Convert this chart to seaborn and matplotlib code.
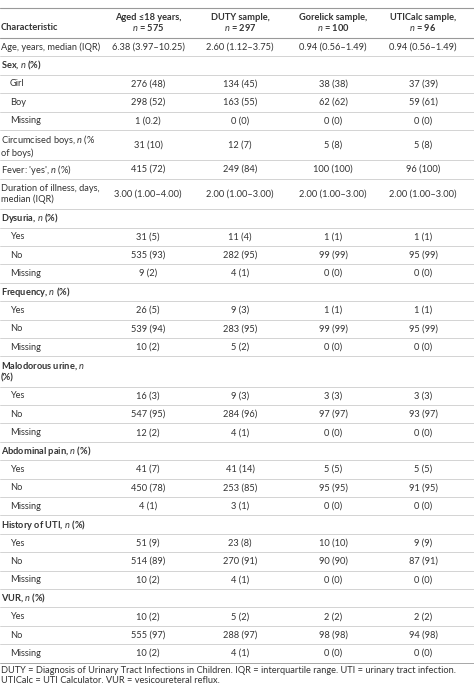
import matplotlib
matplotlib.use("Agg")
import matplotlib.pyplot as plt
import seaborn as sns

sns.set_theme(style="white")
plt.rcParams['font.family'] = ['Lato', 'DejaVu Sans']
plt.rcParams['mathtext.fontset'] = 'custom'
plt.rcParams['mathtext.it'] = 'Lato:italic'
plt.rcParams['mathtext.rm'] = 'Lato'
plt.rcParams['mathtext.bf'] = 'Lato:bold'

headers = ["Characteristic", "Aged ≤18 years,\n$n$ = 575", "DUTY sample,\n$n$ = 297",
           "Gorelick sample,\n$n$ = 100", "UTICalc sample,\n$n$ = 96"]
# kind: 'r' row, 's' section header, 'i' indented sub-row
kinds = ['r','s','i','i','i','r','r','r','s','i','i','i','s','i','i','i','s','i','i','i',
         's','i','i','i','s','i','i','i','s','i','i','i']
labels = ["Age, years, median (IQR)", "Sex, $\\mathbf{\\mathit{n}}$ (%)", "Girl", "Boy", "Missing",
          "Circumcised boys, $n$ (%\nof boys)", "Fever: 'yes', $n$ (%)", "Duration of illness, days,\nmedian (IQR)",
          "Dysuria, $\\mathbf{\\mathit{n}}$ (%)", "Yes", "No", "Missing",
          "Frequency, $\\mathbf{\\mathit{n}}$ (%)", "Yes", "No", "Missing",
          "Malodorous urine, $\\mathbf{\\mathit{n}}$\n(%)", "Yes", "No", "Missing",
          "Abdominal pain, $\\mathbf{\\mathit{n}}$ (%)", "Yes", "No", "Missing",
          "History of UTI, $\\mathbf{\\mathit{n}}$ (%)", "Yes", "No", "Missing",
          "VUR, $\\mathbf{\\mathit{n}}$ (%)", "Yes", "No", "Missing"]
aged = ["6.38 (3.97–10.25)", "", "276 (48)", "298 (52)", "1 (0.2)", "31 (10)", "415 (72)", "3.00 (1.00–4.00)",
        "", "31 (5)", "535 (93)", "9 (2)", "", "26 (5)", "539 (94)", "10 (2)",
        "", "16 (3)", "547 (95)", "12 (2)", "", "41 (7)", "450 (78)", "4 (1)",
        "", "51 (9)", "514 (89)", "10 (2)", "", "10 (2)", "555 (97)", "10 (2)"]
duty = ["2.60 (1.12–3.75)", "", "134 (45)", "163 (55)", "0 (0)", "12 (7)", "249 (84)", "2.00 (1.00–3.00)",
        "", "11 (4)", "282 (95)", "4 (1)", "", "9 (3)", "283 (95)", "5 (2)",
        "", "9 (3)", "284 (96)", "4 (1)", "", "41 (14)", "253 (85)", "3 (1)",
        "", "23 (8)", "270 (91)", "4 (1)", "", "5 (2)", "288 (97)", "4 (1)"]
gorelick = ["0.94 (0.56–1.49)", "", "38 (38)", "62 (62)", "0 (0)", "5 (8)", "100 (100)", "2.00 (1.00–3.00)",
            "", "1 (1)", "99 (99)", "0 (0)", "", "1 (1)", "99 (99)", "0 (0)",
            "", "3 (3)", "97 (97)", "0 (0)", "", "5 (5)", "95 (95)", "0 (0)",
            "", "10 (10)", "90 (90)", "0 (0)", "", "2 (2)", "98 (98)", "0 (0)"]
uticalc = ["0.94 (0.56–1.49)", "", "37 (39)", "59 (61)", "0 (0)", "5 (8)", "96 (100)", "2.00 (1.00–3.00)",
           "", "1 (1)", "95 (99)", "0 (0)", "", "1 (1)", "95 (99)", "0 (0)",
           "", "3 (3)", "93 (97)", "0 (0)", "", "5 (5)", "91 (95)", "0 (0)",
           "", "9 (9)", "87 (91)", "0 (0)", "", "2 (2)", "94 (98)", "0 (0)"]
footnote = ("DUTY = Diagnosis of Urinary Tract Infections in Children. IQR = interquartile range. UTI = urinary tract infection.\n"
            "UTICalc = UTI Calculator. VUR = vesicoureteral reflux.")

W, H = 474, 686
fig = plt.figure(figsize=(W/100, H/100), dpi=100)
ax = fig.add_axes([0, 0, 1, 1])
ax.set_xlim(0, W); ax.set_ylim(H, 0); ax.axis('off')

fs = 6.7
txt = '#333333'
grid = '#cccccc'
colx = [148, 240, 333, 423]
cols = [aged, duty, gorelick, uticalc]

ax.plot([0, W], [8, 8], color='#999999', lw=0.8)
ax.text(1, 28, headers[0], fontsize=fs, fontweight='bold', color=txt, va='center')
for x, h in zip(colx, headers[1:]):
    ax.text(x, 23, h, fontsize=fs, fontweight='bold', color=txt, ha='center', va='center', linespacing=1.1)
ax.plot([0, W], [38, 38], color='#999999', lw=0.8)

y = 38
h = 18.4
for i, (k, lab) in enumerate(zip(kinds, labels)):
    rh = h * 1.65 if '\n' in lab else h
    cy = y + rh / 2
    x0 = 10 if k == 'i' else 1
    ax.text(x0, cy, lab, fontsize=fs, color=txt, va='center', linespacing=1.15,
            fontweight='bold' if k == 's' else 'normal')
    for x, c in zip(colx, cols):
        ax.text(x, cy, c[i], fontsize=fs, color=txt, ha='center', va='center')
    y += rh
    ax.plot([0, W], [y, y], color=grid if i < len(labels) - 1 else '#999999', lw=0.6)

ax.text(1, y + 3, footnote, fontsize=fs, color=txt, va='top', linespacing=1.25)
fig.savefig("out.png", dpi=100)
